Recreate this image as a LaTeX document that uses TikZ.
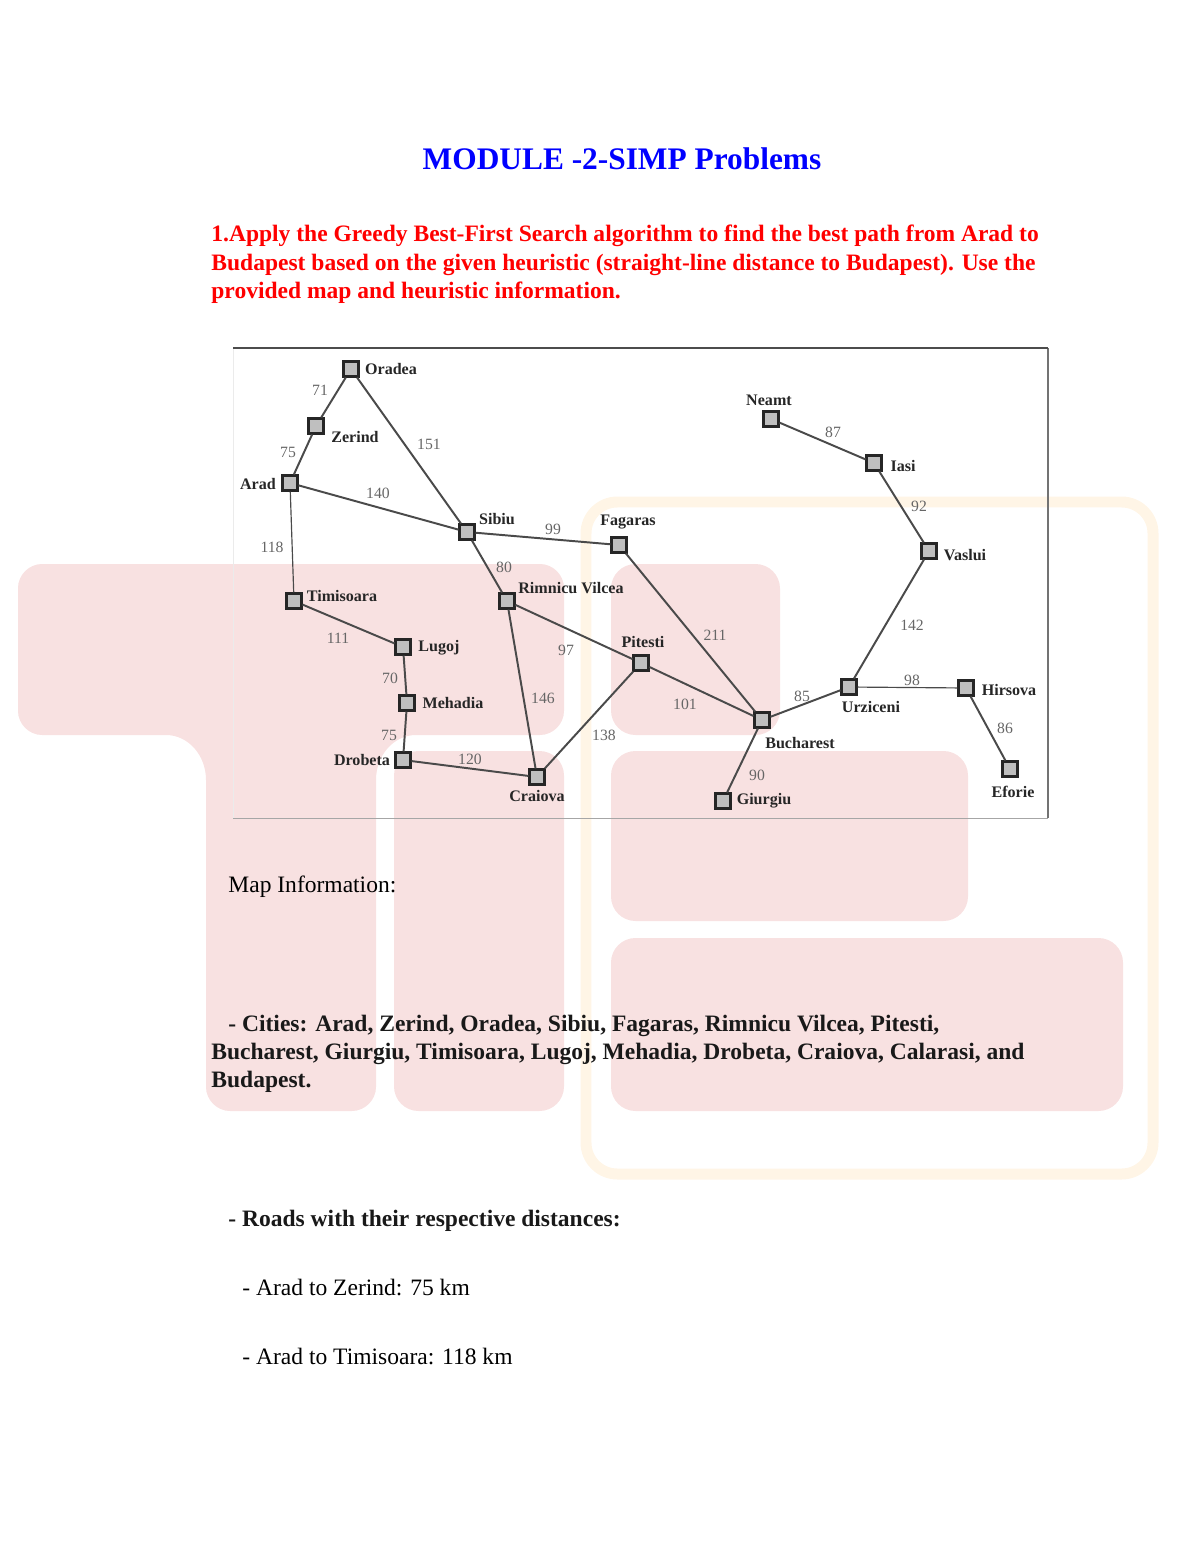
\documentclass[tikz,border=0pt]{standalone}
\usepackage{fontspec}
\setmainfont{Liberation Serif}
\usetikzlibrary{calc,positioning}
\definecolor{pinkbox}{HTML}{F8E1E1}
\definecolor{creamline}{HTML}{FFF5E6}
\definecolor{roadgray}{HTML}{4A4A4A}
\tikzset{
	pagefill/.style={fill=pinkbox},
	pagebox/.style={
		pagefill, 
		rounded corners=12.5pt},
	city/.style={
		rectangle, 
		draw=black!85, 
		line width=1.5pt,
		fill=black!25,
		inner sep=0pt,
		minimum size=7.2pt},
	cityname/.style={
		font=\bfseries\fontsize{8.2}{9}\selectfont,
		text=black!85,
		inner sep=0pt},
	dist/.style={
		font=\fontsize{8}{9}\selectfont,
		text=black!60,
		inner sep=0pt},
	road/.style={draw=roadgray, line width=1pt},
	thinroad/.style={draw=roadgray, line width=.6pt},
	line/.style={
		anchor=base west,
		inner sep=0pt,
		font=\fontsize{12}{14}\selectfont},
	redline/.style={line, font=\bfseries\fontsize{12}{14}\selectfont, text=red},
	boldline/.style={line, font=\bfseries\fontsize{12}{14}\selectfont, text=black!90},
}

\begin{document}
\begin{tikzpicture}[x=.51pt,y=-.51pt]
	\useasboundingbox (0,0) rectangle (1200,1553);
	
	% pink and cream panels behind the page
	\fill[pagefill] (42,564) -- (540,564) .. controls (553,564) and (564,575) .. (564,588) -- (564,711) .. controls (564,724) and (553,735) .. (540,735) -- (416,735) .. controls (394,735) and (376,755) .. (376,780) -- (376,1087) .. controls (376,1100) and (365,1111) .. (352,1111) -- (230,1111) .. controls (217,1111) and (206,1100) .. (206,1087) -- (206,780) .. controls (206,755) and (188,735) .. (166,735) -- (42,735) .. controls (29,735) and (18,724) .. (18,711) -- (18,588) .. controls (18,575) and (29,564) .. (42,564) -- cycle;
	\fill[pagebox] (394,751) rectangle (564,1111);
	\fill[pagebox] (611,564) rectangle (780,735);
	\fill[pagebox] (611,751) rectangle (968,921);
	\fill[pagebox] (611,938) rectangle (1123,1111);
	\draw[creamline, line width=5.6pt, rounded corners=16pt] (586,502) rectangle (1153,1174);
	
	% map frame
	\draw[black!8, line width=.4pt] (233,348) -- (233,818);
	\draw[black!35, line width=.5pt] (233,818) -- (1048,818);
	\draw[black!55, line width=.7pt] (1048,818) -- (1048,348);
	\draw[black!70, line width=.8pt] (1048,348) -- (233,348);
	
	% cities
	\node[city] (oradea) at (351,369) {};
	\node[city] (zerind) at (316,426) {};
	\node[city] (arad) at (290,483) {};
	\node[city] (sibiu) at (467,532) {};
	\node[city] (fagaras) at (619,545) {};
	\node[city] (rimnicu) at (507,601) {};
	\node[city] (timisoara) at (294,601) {};
	\node[city] (lugoj) at (403,647) {};
	\node[city] (mehadia) at (407,703) {};
	\node[city] (drobeta) at (403,760) {};
	\node[city] (craiova) at (537,777) {};
	\node[city] (pitesti) at (641,663) {};
	\node[city] (bucharest) at (762,720) {};
	\node[city] (giurgiu) at (723,801) {};
	\node[city] (urziceni) at (849,687) {};
	\node[city] (hirsova) at (966,688) {};
	\node[city] (eforie) at (1010,769) {};
	\node[city] (vaslui) at (929,551) {};
	\node[city] (iasi) at (874,463) {};
	\node[city] (neamt) at (771,419) {};
	
	% roads
	\draw[road] (oradea) -- (zerind);
	\draw[road] (zerind) -- (arad);
	\draw[road] (oradea) -- (sibiu);
	\draw[road] (arad) -- (sibiu);
	\draw[thinroad] (arad) -- (timisoara);
	\draw[road] (sibiu) -- (fagaras);
	\draw[road] (sibiu) -- (rimnicu);
	\draw[road] (timisoara) -- (lugoj);
	\draw[road] (lugoj) -- (mehadia);
	\draw[road] (mehadia) -- (drobeta);
	\draw[road] (drobeta) -- (craiova);
	\draw[road] (rimnicu) -- (craiova);
	\draw[road] (rimnicu) -- (pitesti);
	\draw[road] (craiova) -- (pitesti);
	\draw[road] (pitesti) -- (bucharest);
	\draw[road] (fagaras) -- (bucharest);
	\draw[road] (bucharest) -- (giurgiu);
	\draw[road] (bucharest) -- (urziceni);
	\draw[thinroad] (urziceni) -- (hirsova);
	\draw[road] (hirsova) -- (eforie);
	\draw[road] (urziceni) -- (vaslui);
	\draw[road] (vaslui) -- (iasi);
	\draw[road] (iasi) -- (neamt);
	
	% city names
	\node[cityname] (oradeaname) at (391,369) {Oradea};
	\node[cityname] (zerindname) at (355,437) {Zerind};
	\node[cityname] (aradname) at (258,484) {Arad};
	\node[cityname] (sibiuname) at (497,519) {Sibiu};
	\node[cityname] (fagarasname) at (628,522) {Fagaras};
	\node[cityname] (rimnicuname) at (571,588) {Rimnicu Vilcea};
	\node[cityname] (timisoaraname) at (342,596) {Timisoara};
	\node[cityname] (lugojname) at (439,648) {Lugoj};
	\node[cityname] (mehadianame) at (453,703) {Mehadia};
	\node[cityname] (drobetaname) at (362,760) {Drobeta};
	\node[cityname] (craiovaname) at (537,796) {Craiova};
	\node[cityname] (pitestiname) at (643,642) {Pitesti};
	\node[cityname] (bucharestname) at (800,743) {Bucharest};
	\node[cityname] (giurgiuname) at (764,801) {Giurgiu};
	\node[cityname] (urziceniname) at (871,707) {Urziceni};
	\node[cityname] (hirsovaname) at (1009,690) {Hirsova};
	\node[cityname] (eforiename) at (1013,792) {Eforie};
	\node[cityname] (vasluiname) at (965,555) {Vaslui};
	\node[cityname] (iasiname) at (903,466) {Iasi};
	\node[cityname] (neamtname) at (769,400) {Neamt};
	
	% distances
	\node[dist] (d71) at (320,390) {71};
	\node[dist] (d75a) at (288,452) {75};
	\node[dist] (d151) at (429,444) {151};
	\node[dist] (d140) at (378,493) {140};
	\node[dist] (d118) at (272,547) {118};
	\node[dist] (d99) at (553,529) {99};
	\node[dist] (d80) at (504,567) {80};
	\node[dist] (d111) at (338,638) {111};
	\node[dist] (d97) at (566,650) {97};
	\node[dist] (d146) at (543,698) {146};
	\node[dist] (d70) at (390,678) {70};
	\node[dist] (d75b) at (389,735) {75};
	\node[dist] (d120) at (470,759) {120};
	\node[dist] (d138) at (604,735) {138};
	\node[dist] (d211) at (715,635) {211};
	\node[dist] (d101) at (685,704) {101};
	\node[dist] (d85) at (802,696) {85};
	\node[dist] (d90) at (757,775) {90};
	\node[dist] (d98) at (912,680) {98};
	\node[dist] (d86) at (1005,728) {86};
	\node[dist] (d142) at (912,625) {142};
	\node[dist] (d92) at (919,506) {92};
	\node[dist] (d87) at (833,432) {87};
	
	% page text
	\node[anchor=base, inner sep=0pt, text=blue, font=\bfseries\fontsize{16}{18}\selectfont] (title) at (622,170) {MODULE -2-SIMP Problems};
	\node[redline] (task1) at (211,242) {1.Apply the Greedy Best-First Search algorithm to find the best path from Arad to};
	\node[redline] (task2) at (211,270) {Budapest based on the given heuristic (straight-line distance to Budapest). Use the};
	\node[redline] (task3) at (211,298) {provided map and heuristic information.};
	\node[line] (mapinfo) at (228,892) {Map Information:};
	\node[boldline] (cities1) at (228,1031) {- Cities: Arad, Zerind, Oradea, Sibiu, Fagaras, Rimnicu Vilcea, Pitesti,};
	\node[boldline] (cities2) at (211,1059) {Bucharest, Giurgiu, Timisoara, Lugoj, Mehadia, Drobeta, Craiova, Calarasi, and};
	\node[boldline] (cities3) at (211,1087) {Budapest.};
	\node[boldline] (roads) at (228,1226) {- Roads with their respective distances:};
	\node[line] (road1) at (242,1295) {- Arad to Zerind: 75 km};
	\node[line] (road2) at (242,1364) {- Arad to Timisoara: 118 km};
	
\end{tikzpicture}
\end{document}
